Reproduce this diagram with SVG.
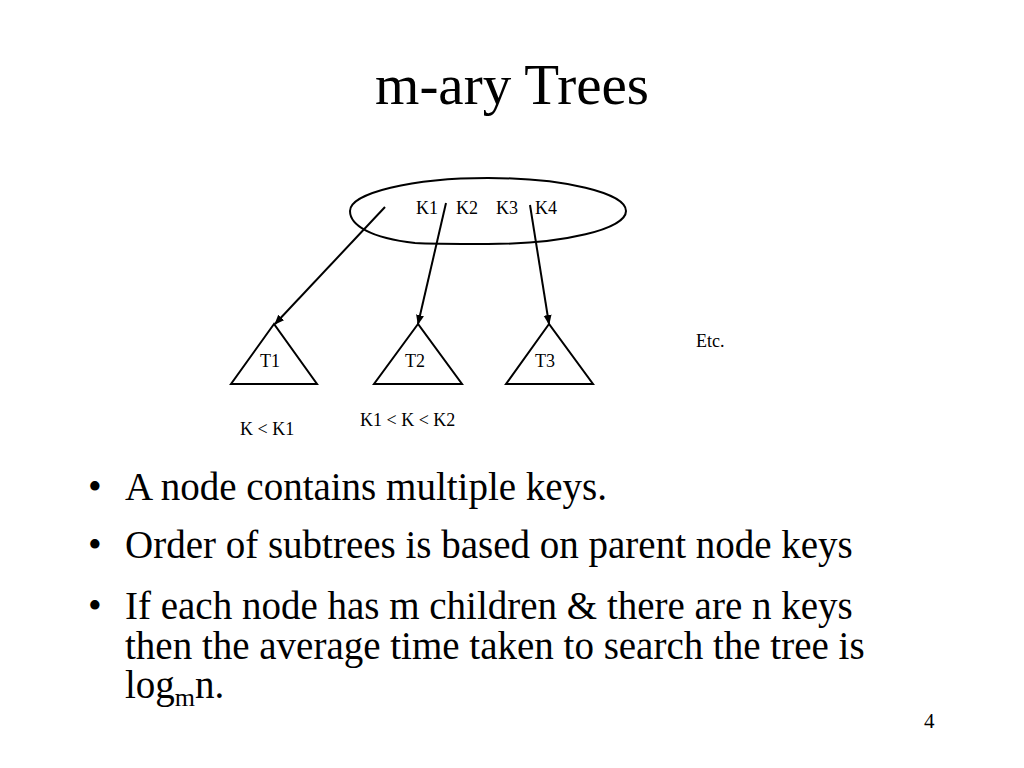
<svg xmlns="http://www.w3.org/2000/svg" width="1024" height="768" viewBox="0 0 1024 768">
<style>
text{font-family:"Liberation Serif",serif;fill:#000}
.s{stroke:#000;stroke-width:2;fill:none}
.k{font-size:18px}
.b{font-size:39px}
</style>
<defs><marker id="a" markerWidth="10" markerHeight="10" refX="9" refY="5" orient="auto" markerUnits="userSpaceOnUse"><path d="M0,1 L10,5 L0,9 Z" fill="#000"/></marker></defs>
<rect width="1024" height="768" fill="#fff"/>
<text x="512" y="104" font-size="57" text-anchor="middle">m-ary Trees</text>
<g id="root">
<path class="s" d="M415,243 C370,238 350,225 350,211 C350,193 412,178 488,178 C564,178 626,193 626,211 C626,229 564,244 488,244 C450,244 430,244 415,243"/>
<text class="k" x="416" y="214">K1</text><text class="k" x="456" y="214">K2</text><text class="k" x="496" y="214">K3</text><text class="k" x="535" y="214">K4</text>
</g>
<g id="t1"><path class="s" d="M274,324 L231,384 L317,384 Z"/><text class="k" x="270" y="367" text-anchor="middle">T1</text></g>
<g id="t2"><path class="s" d="M418,324 L374,384 L462,384 Z"/><text class="k" x="415" y="367" text-anchor="middle">T2</text></g>
<g id="t3"><path class="s" d="M549,324 L506,384 L593,384 Z"/><text class="k" x="545" y="367" text-anchor="middle">T3</text></g>
<g id="connectors" class="s">
<line x1="385" y1="207" x2="275" y2="324" marker-end="url(#a)"/>
<line x1="446" y1="203" x2="418" y2="324" marker-end="url(#a)"/>
<line x1="530" y1="205" x2="549" y2="324" marker-end="url(#a)"/>
</g>
<text class="k" x="240" y="435">K &lt; K1</text>
<text class="k" x="360" y="426">K1 &lt; K &lt; K2</text>
<text class="k" x="696" y="347">Etc.</text>
<g class="b">
<text x="88" y="500">•</text><text x="125" y="500">A node contains multiple keys.</text>
<text x="88" y="558">•</text><text x="125" y="558">Order of subtrees is based on parent node keys</text>
<text x="88" y="619">•</text><text x="125" y="619">If each node has m children &amp; there are n keys</text>
<text x="125" y="659">then the average time taken to search the tree is</text>
<text x="125" y="698">log<tspan font-size="26" dy="8">m</tspan><tspan dy="-8">n.</tspan></text>
</g>
<text x="924" y="728" font-size="21">4</text>
</svg>
